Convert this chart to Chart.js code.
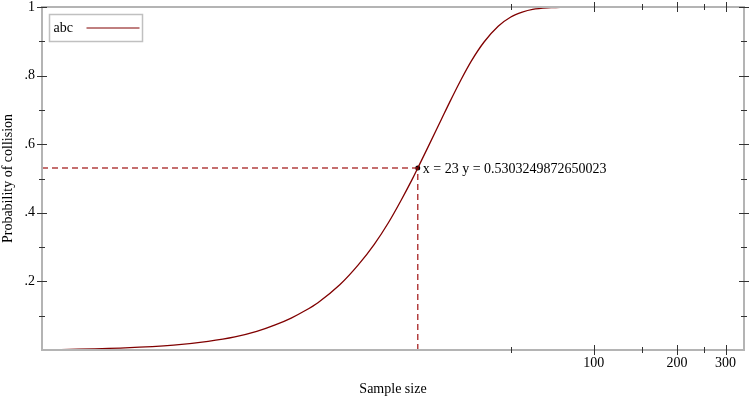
<!DOCTYPE html>
<html>
<head>
<meta charset="utf-8">
<script src="https://cdn.jsdelivr.net/npm/chart.js@4/dist/chart.umd.min.js"></script>
<style>
  html, body { margin: 0; padding: 0; background: #fff; }
  canvas { display: block; }
</style>
</head>
<body>
<canvas id="chart" width="750" height="400"></canvas>
<script>
// data
const sampleSizes = [1, 2, 3, 4, 5, 6, 7, 8, 9, 10, 12, 14, 16, 18, 20, 22, 23, 25, 28, 30, 33, 36, 40, 45, 50, 55, 60, 70, 80, 100, 150, 200, 250, 300, 350];
const probabilities = [0, 0.006, 0.014, 0.025, 0.038, 0.054, 0.073, 0.093, 0.115, 0.138, 0.19, 0.248, 0.308, 0.371, 0.436, 0.499, 0.5303249872650023, 0.59, 0.672, 0.722, 0.788, 0.843, 0.898, 0.944, 0.971, 0.985, 0.993, 0.998, 1, 1, 1, 1, 1, 1, 1];
const markX = 23;
const markY = 0.5303249872650023;
const seriesLabel = 'abc';

const xMajorTicks = [100, 200, 300];
const xMinorTicks = [50, 150, 250];
const yMajorTicks = [0.2, 0.4, 0.6, 0.8, 1];
const yMinorTicks = [0.1, 0.3, 0.5, 0.7, 0.9];

const FONT = 'Liberation Serif';
const FONT_SIZE = 14;
const lineColor = '#800000';
const dashColor = 'rgba(165, 30, 30, 0.85)';

const curve = sampleSizes.map((x, i) => ({ x: x, y: probabilities[i] }));

// frame, ticks on all four sides, legend and point label
const framePlugin = {
    id: 'frame',
    afterDatasetsDraw(chart) {
        const ctx = chart.ctx;
        const a = chart.chartArea;
        const xs = chart.scales.x, ys = chart.scales.y;
        ctx.save();
        // frame
        ctx.strokeStyle = '#b4b4b4';
        ctx.lineWidth = 2;
        ctx.strokeRect(a.left, a.top, a.right - a.left, a.bottom - a.top);
        // ticks
        ctx.strokeStyle = '#333';
        ctx.lineWidth = 1;
        const tick = (x1, y1, x2, y2) => {
            ctx.beginPath(); ctx.moveTo(x1, y1); ctx.lineTo(x2, y2); ctx.stroke();
        };
        xMajorTicks.forEach(v => {
            const p = Math.round(xs.getPixelForValue(v)) + 0.5;
            tick(p, a.bottom - 5, p, a.bottom + 5);
            tick(p, a.top - 5, p, a.top + 5);
        });
        xMinorTicks.forEach(v => {
            const p = Math.round(xs.getPixelForValue(v)) + 0.5;
            tick(p, a.bottom - 3, p, a.bottom + 3);
            tick(p, a.top - 3, p, a.top + 3);
        });
        yMajorTicks.forEach(v => {
            const p = Math.round(ys.getPixelForValue(v)) + 0.5;
            tick(a.left - 5, p, a.left + 5, p);
            tick(a.right - 5, p, a.right + 5, p);
        });
        yMinorTicks.forEach(v => {
            const p = Math.round(ys.getPixelForValue(v)) + 0.5;
            tick(a.left - 3, p, a.left + 3, p);
            tick(a.right - 3, p, a.right + 3, p);
        });

        // point label
        const px = xs.getPixelForValue(markX);
        const py = ys.getPixelForValue(markY);
        ctx.fillStyle = '#000';
        ctx.font = FONT_SIZE + 'px "' + FONT + '"';
        ctx.textBaseline = 'middle';
        ctx.textAlign = 'left';
        ctx.fillText('x = ' + markX + ' y = ' + markY, px + 5, py + 1);

        // legend
        const lx = Math.round(a.left) + 7.5, ly = Math.round(a.top) + 7.5;
        ctx.fillStyle = '#fff';
        ctx.fillRect(lx, ly, 93, 27);
        ctx.strokeStyle = '#c0c0c0';
        ctx.lineWidth = 1.5;
        ctx.strokeRect(lx, ly, 93, 27);
        ctx.fillStyle = '#000';
        ctx.fillText(chart.data.datasets[0].label, lx + 4, ly + 14);
        ctx.strokeStyle = lineColor;
        ctx.lineWidth = 1;
        tick(lx + 37, ly + 13.5, lx + 90, ly + 13.5);
        ctx.restore();
    }
};

new Chart(document.getElementById('chart'), {
    type: 'line',
    data: {
        datasets: [
            {
                label: seriesLabel,
                data: curve,
                borderColor: lineColor,
                borderWidth: 1.3,
                pointRadius: 0,
                cubicInterpolationMode: 'monotone',
                fill: false,
            },
            {
                label: 'h',
                data: [{ x: 1, y: markY }, { x: markX, y: markY }],
                borderColor: dashColor,
                borderWidth: 1.5,
                borderDash: [6, 4],
                pointRadius: 0,
            },
            {
                label: 'v',
                data: [{ x: markX, y: 0 }, { x: markX, y: markY }],
                borderColor: dashColor,
                borderWidth: 1.5,
                borderDash: [6, 4],
                pointRadius: 0,
            },
            {
                label: 'pt',
                data: [{ x: markX, y: markY }],
                showLine: false,
                pointRadius: 2.5,
                pointBackgroundColor: '#000',
                pointBorderColor: '#000',
                pointBorderWidth: 0,
            },
        ]
    },
    options: {
        responsive: false,
        animation: false,
        devicePixelRatio: 1,
        layout: { padding: { top: 7, right: 6, left: 0, bottom: 0 } },
        plugins: {
            legend: { display: false },
            tooltip: { enabled: false },
        },
        scales: {
            x: {
                type: 'logarithmic',
                min: 1,
                max: 350,
                grid: { display: false, drawTicks: false },
                border: { display: false },
                afterBuildTicks: scale => {
                    scale.ticks = xMinorTicks.concat(xMajorTicks).sort((a, b) => a - b).map(v => ({ value: v }));
                },
                ticks: {
                    autoSkip: false,
                    maxRotation: 0,
                    padding: 5,
                    color: '#000',
                    font: { family: FONT, size: FONT_SIZE },
                    callback: v => xMajorTicks.includes(v) ? String(v) : '',
                },
                title: {
                    display: true,
                    text: 'Sample size',
                    color: '#000',
                    font: { family: FONT, size: FONT_SIZE },
                    padding: { top: 0, bottom: 2 },
                },
                afterFit: scale => { scale.height = 50; },
            },
            y: {
                type: 'linear',
                min: 0,
                max: 1,
                grid: { display: false, drawTicks: false },
                border: { display: false },
                afterBuildTicks: scale => {
                    scale.ticks = yMajorTicks.map(v => ({ value: v }));
                },
                ticks: {
                    autoSkip: false,
                    padding: 7,
                    color: '#000',
                    font: { family: FONT, size: FONT_SIZE },
                    callback: v => v === 1 ? '1' : String(v).replace(/^0/, ''),
                },
                title: {
                    display: true,
                    text: 'Probability of collision',
                    color: '#000',
                    font: { family: FONT, size: FONT_SIZE },
                    padding: { top: 0, bottom: 0 },
                },
                afterFit: scale => {
                    scale.width = 42;
                    scale.paddingTop = 0;
                    scale.paddingBottom = 0;
                },
            },
        },
    },
    plugins: [framePlugin],
});
</script>
</body>
</html>
